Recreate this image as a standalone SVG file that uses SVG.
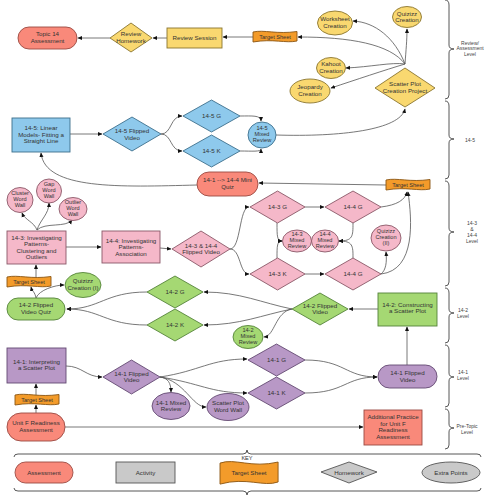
<svg xmlns="http://www.w3.org/2000/svg" xmlns:xlink="http://www.w3.org/1999/xlink" width="495" height="495" viewBox="0 0 495 495">
<style>
text{font-family:"Liberation Sans",Arial,sans-serif;font-size:6.2px;fill:#333;text-anchor:middle}
.sm{font-size:5.6px}
.lvl{font-size:5px;fill:#444}
.c{fill:none;stroke:#555;stroke-width:0.8;marker-end:url(#ah)}
.b{fill:none;stroke:#444;stroke-width:0.9}
.sal{fill:#f9897a;stroke:#9a4a42;stroke-width:0.9}
.yel{fill:#f9d870;stroke:#8a7530;stroke-width:0.9}
.blu{fill:#8ec9ec;stroke:#3d6f8c;stroke-width:0.9}
.pnk{fill:#f5b8c9;stroke:#8a5868;stroke-width:0.9}
.grn{fill:#a5d873;stroke:#55833a;stroke-width:0.9}
.pur{fill:#b898c6;stroke:#634a72;stroke-width:0.9}
.org{fill:#f39b2a;stroke:#8a5512;stroke-width:0.9}
.gry{fill:#c9c9c9;stroke:#555;stroke-width:0.9}
</style>
<defs>
<marker id="ah" markerWidth="5" markerHeight="5" refX="4" refY="2.5" orient="auto" markerUnits="userSpaceOnUse"><path d="M0,0.5 L4.5,2.5 L0,4.5 Z" fill="#111"/></marker>
<path id="ts" d="M0,1 C11,-1.5 24,3.5 44,0.5 L44,10 C33,12.5 20,7.5 0,11 Z" vector-effect="non-scaling-stroke"/>
</defs>
<rect width="495" height="495" fill="#fff"/>

<g id="connectors">
<path class="c" d="M167,38 L153,38"/>
<path class="c" d="M110,38 L78,38"/>
<path class="c" d="M253,37 L223,37"/>
<path class="c" d="M405,64 C406,50 407,40 407,29"/>
<path class="c" d="M405,64 C395,38 375,22 353,21"/>
<path class="c" d="M405,64 C390,44 350,37 298,37"/>
<path class="c" d="M405,64 C392,62 370,67 346,68"/>
<path class="c" d="M405,64 C385,70 355,80 331,88"/>
<path class="c" d="M70,134 L102,134"/>
<path class="c" d="M161,134 C172,134 170,116 182,116"/>
<path class="c" d="M161,134 C172,134 170,151 182,151"/>
<path class="c" d="M240,116 C252,116 261,115 261,121"/>
<path class="c" d="M240,151 C252,151 261,152 261,149"/>
<path class="c" d="M276,135 C340,137 400,130 405,109"/>
<path class="c" d="M386,185 L259,183"/>
<path class="c" d="M197,185 C120,187 45,190 41,153"/>
<path class="c" d="M37,230 C34,222 25,220 22,213"/>
<path class="c" d="M37,230 C40,220 49,214 49,203"/>
<path class="c" d="M37,230 C45,222 66,228 72,220"/>
<path class="c" d="M66,247 L101,247"/>
<path class="c" d="M160,248 L171,249"/>
<path class="c" d="M230,249 C241,249 239,207 249,207"/>
<path class="c" d="M230,249 C241,249 239,274 249,274"/>
<path class="c" d="M305,207 L324,207"/>
<path class="c" d="M305,274 L324,274"/>
<path class="c" d="M277,223 C277,236 277,241 282,241"/>
<path class="c" d="M277,258 C277,246 277,241 282,241"/>
<path class="c" d="M353,223 C353,236 353,241 339,241"/>
<path class="c" d="M353,258 C353,246 353,241 339,241"/>
<path class="c" d="M381,207 C397,205 405,200 407,192"/>
<path class="c" d="M381,274 C416,270 412,220 408,192"/>
<path class="c" d="M381,274 C386,270 387,262 386,252"/>
<path class="c" d="M36,277 L36,265"/>
<path class="c" d="M36,298 C35,292 32,291 31,287"/>
<path class="c" d="M36,298 C39,290 55,285 64,285"/>
<path class="c" d="M378,309 L349,309"/>
<path class="c" d="M292,309 C262,303 240,292 204,292"/>
<path class="c" d="M292,309 C262,315 240,325 204,325"/>
<path class="c" d="M292,309 C275,312 275,336 264,337"/>
<path class="c" d="M147,292 C105,292 100,309 67,309"/>
<path class="c" d="M147,325 C105,325 100,309 67,309"/>
<path class="c" d="M66,366 C82,366 86,377 102,377"/>
<path class="c" d="M160,377 C200,371 210,359 247,359"/>
<path class="c" d="M160,377 C200,383 210,393 247,393"/>
<path class="c" d="M160,377 C168,378 171,383 171,392"/>
<path class="c" d="M160,377 C185,381 192,407 206,407"/>
<path class="c" d="M305,360 C345,360 345,377 377,377"/>
<path class="c" d="M305,393 C345,393 345,377 377,377"/>
<path class="c" d="M407,365 L407,327"/>
<path class="c" d="M36,413 L36,405"/>
<path class="c" d="M36,395 L36,384"/>
<path class="c" d="M65,427 L363,427"/>
</g>

<g id="topic14-assessment"><rect class="sal" x="18" y="27" width="59" height="22" rx="11"/><text x="47.5" y="36">Topic 14</text><text x="47.5" y="42.5">Assessment</text></g>
<g id="review-homework"><polygon class="yel" points="110,38 131,23 152,38 131,52"/><text x="131" y="36">Review</text><text x="131" y="42.5">Homework</text></g>
<g id="review-session"><rect class="yel" x="167" y="28" width="55" height="20"/><text x="194.5" y="40">Review Session</text></g>
<g id="target-sheet-1"><use href="#ts" class="org" transform="translate(253,31)"/><text class="sm" x="275" y="39">Target Sheet</text></g>
<g id="worksheet-creation"><ellipse class="yel" cx="335" cy="23" rx="17.5" ry="12"/><text x="335" y="21">Worksheet</text><text x="335" y="27.5">Creation</text></g>
<g id="quizizz-creation"><ellipse class="yel" cx="407" cy="17" rx="14.5" ry="10.5"/><text x="407" y="15.5">Quizizz</text><text x="407" y="22">Creation</text></g>
<g id="kahoot-creation"><ellipse class="yel" cx="331" cy="68" rx="14.5" ry="10.5"/><text x="331" y="66">Kahoot</text><text x="331" y="72.5">Creation</text></g>
<g id="jeopardy-creation"><ellipse class="yel" cx="310" cy="91" rx="20" ry="12"/><text x="310" y="89">Jeopardy</text><text x="310" y="95.5">Creation</text></g>
<g id="scatter-plot-project"><polygon class="yel" points="375,88 405,68 435,88 405,107"/><text x="405" y="86">Scatter Plot</text><text x="405" y="92.5">Creation Project</text></g>

<g id="lesson-14-5"><rect class="blu" x="12" y="118" width="58" height="34"/><text x="41" y="130">14-5: Linear</text><text x="41" y="136.5">Models- Fitting a</text><text x="41" y="143">Straight Line</text></g>
<g id="flipped-14-5"><polygon class="blu" points="103,134 132,117 161,134 132,151"/><text x="132" y="133">14-5 Flipped</text><text x="132" y="139.5">Video</text></g>
<g id="g-14-5"><polygon class="blu" points="183,116 211.5,100 240,116 211.5,132"/><text x="211.5" y="118">14-5 G</text></g>
<g id="k-14-5"><polygon class="blu" points="183,151 211.5,135 240,151 211.5,167"/><text x="211.5" y="153">14-5 K</text></g>
<g id="mixed-14-5"><ellipse class="blu" cx="262" cy="135" rx="14" ry="13"/><text class="sm" x="262" y="129.5">14-5</text><text class="sm" x="262" y="135.5">Mixed</text><text class="sm" x="262" y="141.5">Review</text></g>

<g id="mini-quiz"><rect class="sal" x="197" y="172" width="61" height="24" rx="12"/><text x="227.5" y="182">14-1 --&gt; 14-4 Mini</text><text x="227.5" y="188.5">Quiz</text></g>
<g id="target-sheet-2"><use href="#ts" class="org" transform="translate(386,179)"/><text class="sm" x="408" y="187">Target Sheet</text></g>
<g id="cluster-word-wall"><ellipse class="pnk" cx="20" cy="200" rx="13" ry="12.5"/><text class="sm" x="20" y="195">Cluster</text><text class="sm" x="20" y="201">Word</text><text class="sm" x="20" y="207">Wall</text></g>
<g id="gap-word-wall"><ellipse class="pnk" cx="49" cy="191" rx="12.5" ry="12"/><text class="sm" x="49" y="186">Gap</text><text class="sm" x="49" y="192">Word</text><text class="sm" x="49" y="198">Wall</text></g>
<g id="outlier-word-wall"><ellipse class="pnk" cx="73" cy="209" rx="14" ry="11.5"/><text class="sm" x="73" y="204">Outlier</text><text class="sm" x="73" y="210">Word</text><text class="sm" x="73" y="216">Wall</text></g>
<g id="lesson-14-3"><rect class="pnk" x="7" y="231" width="59" height="33"/><text x="36.5" y="239.5">14-3: Investigating</text><text x="36.5" y="246">Patterns-</text><text x="36.5" y="252.5">Clustering and</text><text x="36.5" y="259">Outliers</text></g>
<g id="lesson-14-4"><rect class="pnk" x="102" y="231" width="58" height="32"/><text x="131" y="242.5">14-4: Investigating</text><text x="131" y="249">Patterns-</text><text x="131" y="255.5">Association</text></g>
<g id="flipped-14-3-14-4"><polygon class="pnk" points="172,249 201,231 230,249 201,267"/><text x="201" y="247.5">14-3 &amp; 14-4</text><text x="201" y="254">Flipped Video</text></g>
<g id="g-14-3"><polygon class="pnk" points="250,207 277.5,191 305,207 277.5,223"/><text x="277.5" y="209">14-3 G</text></g>
<g id="g-14-4-top"><polygon class="pnk" points="325,207 353,191 381,207 353,223"/><text x="353" y="209">14-4 G</text></g>
<g id="k-14-3"><polygon class="pnk" points="250,274 277.5,258 305,274 277.5,290"/><text x="277.5" y="276">14-3 K</text></g>
<g id="g-14-4-bottom"><polygon class="pnk" points="325,274 353,258 381,274 353,290"/><text x="353" y="276">14-4 G</text></g>
<g id="mixed-14-3"><ellipse class="pnk" cx="297" cy="241" rx="14.5" ry="11"/><text class="sm" x="297" y="236">14-3</text><text class="sm" x="297" y="242">Mixed</text><text class="sm" x="297" y="248">Review</text></g>
<g id="mixed-14-4"><ellipse class="pnk" cx="325" cy="241" rx="13.5" ry="11"/><text class="sm" x="325" y="236">14-4</text><text class="sm" x="325" y="242">Mixed</text><text class="sm" x="325" y="248">Review</text></g>
<g id="quizizz-creation-2"><ellipse class="pnk" cx="386" cy="238" rx="15" ry="13"/><text class="sm" x="386" y="232.5">Quizizz</text><text class="sm" x="386" y="238.5">Creation</text><text class="sm" x="386" y="244.5">(II)</text></g>
<g id="target-sheet-3"><use href="#ts" class="org" transform="translate(7,276)"/><text class="sm" x="29" y="284">Target Sheet</text></g>
<g id="quizizz-creation-1"><ellipse class="grn" cx="83" cy="285" rx="18" ry="12.5"/><text x="83" y="283">Quizizz</text><text x="83" y="289.5">Creation (I)</text></g>

<g id="flipped-quiz-14-2"><rect class="grn" x="7" y="298" width="58" height="22" rx="11"/><text x="36" y="307">14-2 Flipped</text><text x="36" y="313.5">Video Quiz</text></g>
<g id="g-14-2"><polygon class="grn" points="147,292 175,276 203,292 175,308"/><text x="175" y="294">14-2 G</text></g>
<g id="k-14-2"><polygon class="grn" points="147,325 175,309 203,325 175,341"/><text x="175" y="327">14-2 K</text></g>
<g id="flipped-14-2"><polygon class="grn" points="292,309 320,293 348,309 320,325"/><text x="320" y="307.5">14-2 Flipped</text><text x="320" y="314">Video</text></g>
<g id="lesson-14-2"><rect class="grn" x="378" y="293" width="59" height="33"/><text x="407.5" y="306.5">14-2: Constructing</text><text x="407.5" y="313">a Scatter Plot</text></g>
<g id="mixed-14-2"><ellipse class="grn" cx="248" cy="337" rx="15" ry="11.5"/><text class="sm" x="248" y="332">14-2</text><text class="sm" x="248" y="338">Mixed</text><text class="sm" x="248" y="344">Review</text></g>

<g id="lesson-14-1"><rect class="pur" x="7" y="348" width="59" height="35"/><text x="36.5" y="363.5">14-1: Interpreting</text><text x="36.5" y="370">a Scatter Plot</text></g>
<g id="flipped-14-1-diamond"><polygon class="pur" points="103,377 131.5,360 160,377 131.5,394"/><text x="131.5" y="375.5">14-1 Flipped</text><text x="131.5" y="382">Video</text></g>
<g id="g-14-1"><polygon class="pur" points="248,360 276.5,344 305,360 276.5,376"/><text x="276.5" y="362">14-1 G</text></g>
<g id="k-14-1"><polygon class="pur" points="248,393 276.5,377 305,393 276.5,409"/><text x="276.5" y="395">14-1 K</text></g>
<g id="flipped-14-1"><rect class="pur" x="378" y="365" width="59" height="23" rx="11.5"/><text x="407.5" y="375">14-1 Flipped</text><text x="407.5" y="381.5">Video</text></g>
<g id="mixed-14-1"><ellipse class="pur" cx="171" cy="406" rx="19" ry="13.5"/><text x="171" y="404.5">14-1 Mixed</text><text x="171" y="411">Review</text></g>
<g id="scatter-word-wall"><ellipse class="pur" cx="228" cy="407" rx="21" ry="13.5"/><text x="228" y="405">Scatter Plot</text><text x="228" y="411.5">Word Wall</text></g>
<g id="target-sheet-4"><use href="#ts" class="org" transform="translate(15,394)"/><text class="sm" x="37" y="402">Target Sheet</text></g>
<g id="unit-f-readiness"><rect class="sal" x="7" y="413" width="58" height="28" rx="14"/><text x="36" y="425">Unit F Readiness</text><text x="36" y="431.5">Assessment</text></g>
<g id="additional-practice"><rect class="sal" x="364" y="410" width="58" height="35"/><text x="393" y="419">Additional Practice</text><text x="393" y="425.5">for Unit F</text><text x="393" y="432">Readiness</text><text x="393" y="438.5">Assessment</text></g>

<g id="level-braces">
<path class="b" d="M445,0 Q449,0 449,5 L449,45 Q449,49 454,49 Q449,49 449,53 L449,95 Q449,99 445,99"/>
<path class="b" d="M445,101 Q449,101 449,106 L449,135 Q449,139 454,139 Q449,139 449,143 L449,175 Q449,179 445,179"/>
<path class="b" d="M445,181 Q449,181 449,186 L449,228 Q449,232 454,232 Q449,232 449,236 L449,282 Q449,286 445,286"/>
<path class="b" d="M445,288 Q449,288 449,293 L449,309 Q449,313 454,313 Q449,313 449,317 L449,339 Q449,343 445,343"/>
<path class="b" d="M445,345 Q449,345 449,350 L449,373 Q449,377 454,377 Q449,377 449,381 L449,403 Q449,407 445,407"/>
<path class="b" d="M445,409 Q449,409 449,414 L449,424 Q449,428 454,428 Q449,428 449,432 L449,445 Q449,449 445,449"/>
<text class="lvl" x="470" y="44.5">Review/</text><text class="lvl" x="470" y="50">Assessment</text><text class="lvl" x="470" y="55.5">Level</text>
<text class="lvl" x="470" y="141.5">14-5</text>
<text class="lvl" x="472" y="225">14-3</text><text class="lvl" x="472" y="231">&amp;</text><text class="lvl" x="472" y="237">14-4</text><text class="lvl" x="472" y="243">Level</text>
<text class="lvl" x="463" y="312">14-2</text><text class="lvl" x="463" y="318">Level</text>
<text class="lvl" x="463" y="374">14-1</text><text class="lvl" x="463" y="380">Level</text>
<text class="lvl" x="467" y="428">Pre-Topic</text><text class="lvl" x="467" y="434">Level</text>
</g>

<g id="key">
<path class="b" d="M14,457 Q14,454 18,454 L243,454 Q247,454 247,450 Q247,454 251,454 L477,454 Q481,454 481,457"/>
<path class="b" d="M14,488 Q14,491 18,491 L243,491 Q247,491 247,495 Q247,491 251,491 L477,491 Q481,491 481,488"/>
<text class="sm" x="247" y="460">KEY</text>
<g id="key-assessment"><rect class="sal" x="15" y="462" width="58" height="21" rx="10.5"/><text x="44" y="474.5">Assessment</text></g>
<g id="key-activity"><rect class="gry" x="116" y="462" width="59" height="21"/><text x="145.5" y="474.5">Activity</text></g>
<g id="key-target-sheet"><use href="#ts" class="org" transform="translate(220,461) scale(1.32,2.1)"/><text x="249" y="474.5">Target Sheet</text></g>
<g id="key-homework"><polygon class="gry" points="321,472 349,462 377,472 349,483"/><text x="349" y="474.5">Homework</text></g>
<g id="key-extra-points"><ellipse class="gry" cx="451" cy="472.5" rx="29" ry="10.5"/><text x="451" y="474.5">Extra Points</text></g>
</g>
</svg>
